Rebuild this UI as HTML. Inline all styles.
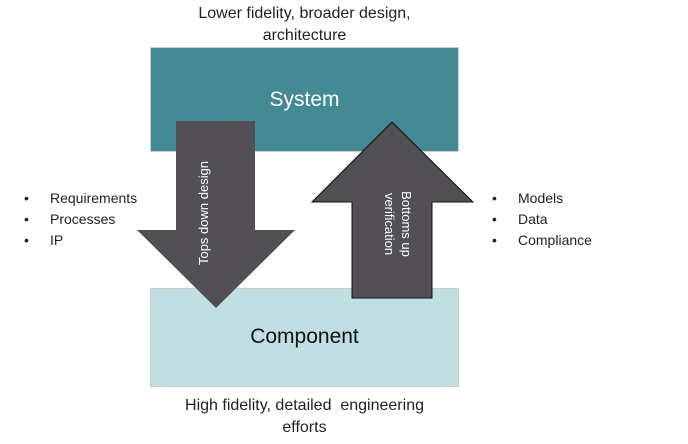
<!DOCTYPE html>
<html><head><style>
body{margin:0;background:#fff;width:688px;height:444px;overflow:hidden;font-family:"Liberation Sans",sans-serif}
.t{position:absolute;text-align:center;color:#222}
ul{position:absolute;margin:0;padding-left:0;list-style:none;font-size:14px;color:#222;line-height:21px}
li:before{content:"•";display:inline-block;width:26px;padding-left:2px}
</style></head><body>
<div class="t" style="left:150px;top:3px;width:309px;font-size:16px;line-height:22px">Lower fidelity, broader design,<br>architecture</div>
<div style="position:absolute;left:150px;top:47px;width:307px;height:103px;background:#438a95;border:1px solid #ccc"></div>
<div style="position:absolute;left:150px;top:288px;width:307px;height:97px;background:#c0dfe2;border:1px solid #ccc"></div>
<div class="t" style="left:150px;top:88px;width:309px;font-size:21px;color:#fff">System</div>
<div class="t" style="left:150px;top:325px;width:309px;font-size:21px;color:#111">Component</div>
<svg style="position:absolute;left:0;top:0" width="688" height="444">
<polygon points="176,121 255,121 255,230 295,230 216,308 137,230 176,230" fill="#524f55"/>
<polygon points="392,122 473,202 432,202 432,298 352,298 352,202 312,202" fill="#524f55" stroke="#111" stroke-width="1"/>
<text transform="translate(208,213) rotate(-90)" text-anchor="middle" font-size="13" fill="#fff" font-family="Liberation Sans">Tops down design</text>
<text transform="translate(402,224) rotate(90)" text-anchor="middle" font-size="13" fill="#fff" font-family="Liberation Sans"><tspan x="0" y="0">Bottoms up</tspan><tspan x="0" y="17">verification</tspan></text>
</svg>
<ul style="left:22px;top:188px"><li>Requirements</li><li>Processes</li><li>IP</li></ul>
<ul style="left:490px;top:188px"><li>Models</li><li>Data</li><li>Compliance</li></ul>
<div class="t" style="left:150px;top:395px;width:309px;font-size:16px;line-height:22px">High fidelity, detailed&nbsp; engineering<br>efforts</div>
</body></html>
